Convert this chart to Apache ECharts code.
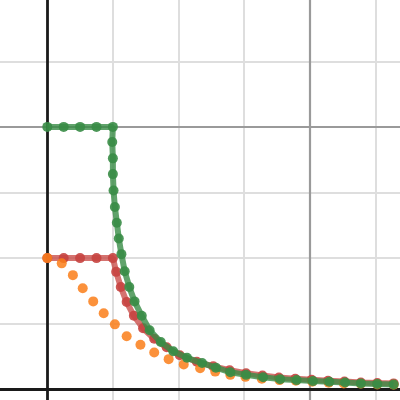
<!DOCTYPE html>
<html>
<head>
<meta charset="utf-8">
<script src="https://cdn.jsdelivr.net/npm/echarts@6/dist/echarts.min.js"></script>
<style>html,body{margin:0;padding:0;background:#fff}#c{width:400px;height:400px}</style>
</head>
<body>
<div id="c"></div>
<script>
// Green series (connected points)
const greenX = [0, 0.25, 0.5, 0.75, 1.0, 0.99, 1.0, 1.0, 1.01, 1.03, 1.06, 1.09, 1.13, 1.18, 1.25, 1.33, 1.44, 1.56, 1.73, 1.92, 2.13, 2.36, 2.57, 2.79, 3.03, 3.29, 3.55, 3.80, 4.05, 4.30, 4.54, 4.78, 5.03, 5.28];
const greenY = [4, 4, 4, 4, 4, 3.77, 3.52, 3.28, 3.03, 2.78, 2.54, 2.30, 2.06, 1.80, 1.56, 1.34, 1.12, 0.90, 0.72, 0.58, 0.48, 0.40, 0.33, 0.26, 0.22, 0.185, 0.155, 0.14, 0.125, 0.115, 0.105, 0.09, 0.08, 0.075];
// Red series (connected points)
const redX = [0, 0.25, 0.5, 0.75, 1.0, 1.05, 1.12, 1.21, 1.32, 1.46, 1.63, 1.82, 2.02, 2.28, 2.53, 2.78, 3.03, 3.28, 3.53, 3.78, 4.03, 4.28, 4.53, 4.78, 5.03, 5.28];
const redY = [2, 2, 2, 2, 2, 1.79, 1.56, 1.33, 1.12, 0.93, 0.77, 0.64, 0.52, 0.42, 0.35, 0.29, 0.245, 0.21, 0.18, 0.16, 0.145, 0.13, 0.12, 0.105, 0.095, 0.09];
// Orange series (points only)
const orangeX = [0, 0.22, 0.39, 0.54, 0.70, 0.86, 1.03, 1.21, 1.42, 1.63, 1.85, 2.08, 2.33, 2.56, 2.79, 3.02, 3.27, 3.54, 3.79, 4.04, 4.29, 4.52, 4.78, 5.03, 5.28];
const orangeY = [2, 1.92, 1.74, 1.54, 1.34, 1.16, 0.99, 0.81, 0.68, 0.56, 0.46, 0.38, 0.32, 0.27, 0.22, 0.19, 0.16, 0.14, 0.13, 0.115, 0.10, 0.09, 0.085, 0.075, 0.07];
// Grid lines
const minorX = [1, 2, 3, 5];
const majorX = [4];
const minorY = [1, 2, 3, 5];
const majorY = [4];

const zip = (xs, ys) => xs.map((x, i) => [x, ys[i]]);

const chart = echarts.init(document.getElementById('c'), null, {renderer: 'canvas'});

function gridLines(vals, key, color, width) {
  return vals.map(v => ({ [key]: v, lineStyle: { color: color, width: width, type: 'solid' } }));
}

const option = {
  animation: false,
  backgroundColor: '#ffffff',
  grid: { left: 0, right: 0, top: 0, bottom: 0, containLabel: false },
  xAxis: { type: 'value', min: -0.721, max: 5.377, show: false, splitLine: { show: false } },
  yAxis: { type: 'value', min: -0.163, max: 5.934, show: false, splitLine: { show: false } },
  series: [
    {
      type: 'line', data: [], silent: true, z: 0,
      markLine: {
        silent: true, symbol: ['none', 'none'], label: { show: false },
        animation: false, z: 0,
        data: [].concat(
          gridLines(minorX, 'xAxis', '#dedede', 2),
          gridLines(minorY, 'yAxis', '#dedede', 2),
          gridLines(majorX, 'xAxis', '#9a9a9a', 2.2),
          gridLines(majorY, 'yAxis', '#9a9a9a', 2.2),
          gridLines([0], 'xAxis', '#1a1a1a', 2.8),
          gridLines([0], 'yAxis', '#1a1a1a', 2.8)
        )
      }
    },
    {
      name: 'red', type: 'line', z: 10,
      data: zip(redX, redY),
      symbol: 'circle', symbolSize: 10, showSymbol: true,
      lineStyle: { color: '#c74440', width: 6, opacity: 0.75 },
      itemStyle: { color: '#c74440', opacity: 0.9, borderWidth: 0 }
    },
    {
      name: 'orange', type: 'scatter', z: 11,
      data: zip(orangeX, orangeY),
      symbol: 'circle', symbolSize: 10,
      itemStyle: { color: '#fa7e19', opacity: 0.85, borderWidth: 0 }
    },
    {
      name: 'green', type: 'line', z: 12,
      data: zip(greenX, greenY),
      symbol: 'circle', symbolSize: 10, showSymbol: true,
      lineStyle: { color: '#388c46', width: 6, opacity: 0.8 },
      itemStyle: { color: '#388c46', opacity: 0.9, borderWidth: 0 }
    }
  ]
};
chart.setOption(option);
</script>
</body>
</html>
